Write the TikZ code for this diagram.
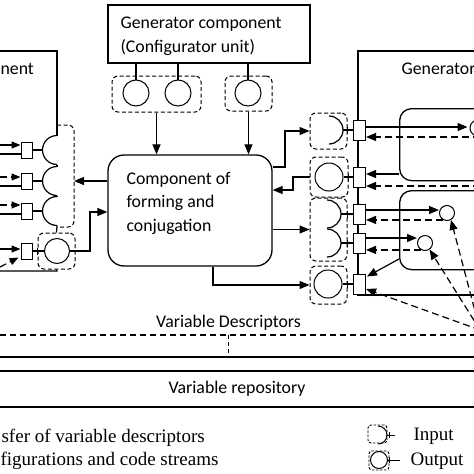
\documentclass[tikz,border=0pt]{standalone}
\usepackage{fontspec}
\setmainfont{Liberation Serif}
\newfontfamily\calib{Carlito}
\usetikzlibrary{arrows.meta}
\begin{document}
\begin{tikzpicture}[x=1pt,y=-1pt,line width=1.2pt,
  arr/.style={-{Triangle[length=10pt,width=8pt]}},
  sarr/.style={-{Triangle[length=9pt,width=7pt]}},
  dsh/.style={dash pattern=on 7pt off 4pt},
  grp/.style={draw,dash pattern=on 4pt off 2.5pt,rounded corners=6pt,line width=1pt,minimum width=37pt,inner sep=0pt},
  grpline/.style={dash pattern=on 4pt off 2.5pt,rounded corners=6pt,line width=1pt},
  sq/.style={draw,fill=white,inner sep=0pt,minimum width=12pt,minimum height=20pt,line width=1pt},
  sqs/.style={draw,fill=white,inner sep=0pt,minimum width=11pt,minimum height=16pt,line width=1pt},
  port/.style={draw,circle,inner sep=0pt,minimum size=28pt,line width=1pt},
  tick/.style={line width=1pt},
  lbl/.style={font=\calib\fontsize{17.8}{23.5}\selectfont,inner sep=0pt},
  leg/.style={font=\fontsize{19}{22}\selectfont,inner sep=0pt},
  box/.style={draw,line width=1.3pt,inner sep=0pt}
]
\useasboundingbox (0,0) rectangle (474,474);
\clip (0,0) rectangle (474,474);

% ---------- top: configurator unit ----------
\node[box,minimum width=202pt,minimum height=58pt] (gen) at (209,34) {};
\node[lbl,anchor=north west,align=left] (gent) at (120,16.5) {Generator component\\(Configurator unit)};
\node[grp,minimum width=89pt,minimum height=36pt] (g1) at (156.5,94) {};
\node[grp,minimum width=47pt,minimum height=35pt] (g2) at (248.5,93.5) {};
\node[port,minimum size=26pt] (c1) at (136,93) {};
\node[port,minimum size=26pt] (c2) at (178,93) {};
\node[port,minimum size=26pt] (c3) at (248,93) {};
\draw (gen.south -| c1) -- (c1.north);
\draw (gen.south -| c2) -- (c2.north);
\draw (gen.south -| c3) -- (c3.north);

% ---------- component of forming and conjugation ----------
\node[box,rounded corners=16pt,minimum width=164pt,minimum height=111pt] (comp) at (190,210.5) {};
\node[lbl,anchor=north west,align=left] (compt) at (126,171.5) {Component of\\forming and\\conjugation};
\draw[arr] (g1.south) -- (g1.south |- comp.north);
\draw[arr] (g2.south) -- (g2.south |- comp.north);

% ---------- left component ----------
\node[lbl,anchor=base west] (lt) at (0,74) {nent};
\draw (0,51) -- (57,51) -- (57,135.5);
\draw (57,135.5) arc[start angle=270,end angle=90,radius=14.5];
\draw (57,166.5) arc[start angle=270,end angle=90,radius=14.5];
\draw (57,196.5) arc[start angle=270,end angle=90,radius=14.5];
\draw (57,164.5) -- (57,166.5);
\draw (57,195.5) -- (57,196.5);
\draw[grpline] (57,125) -- (74,125) -- (74,227) -- (57,227);
\node[sqs] (sqL1) at (26.5,150) {};
\node[sqs] (sqL2) at (26.5,181) {};
\node[sqs] (sqL3) at (26.5,211) {};
\node[sqs] (sqL4) at (26.5,251) {};
\draw (sqL1.east) -- (42.5,150);
\draw (sqL2.east) -- (42.5,181);
\draw (sqL3.east) -- (42.5,211);
\node[grp,minimum height=36pt] (gLc) at (56.5,251) {};
\node[port,minimum size=25pt] (cL) at (57,251) {};
\draw (57,225.5) -- (gLc.north);
\draw (sqL4.east) -- (cL.west);
\draw[tick] (gLc.west) ++(0,-3.5) -- ++(0,7);
\draw (gLc.south) -- (57,271) -- (0,271);
% incoming streams on the left
\coordinate (L1a) at (0,145); \coordinate (L1b) at (0,154);
\coordinate (L2a) at (0,177); \coordinate (L2b) at (0,186);
\coordinate (L3a) at (0,205); \coordinate (L3b) at (0,214);
\coordinate (L4a) at (0,249); \coordinate (L4b) at (0,267);
\draw[sarr] (L1a) -- (sqL1.west |- L1a);
\draw (L1b) -- (sqL1.west |- L1b);
\draw[sarr,dsh] (L2a) -- (sqL2.west |- L2a);
\draw (L2b) -- (sqL2.west |- L2b);
\draw[sarr,dsh] (L3a) -- (sqL3.west |- L3a);
\draw (L3b) -- (sqL3.west |- L3b);
\draw[sarr] (L4a) -- (sqL4.west |- L4a);
\draw[sarr,dsh] (L4b) -- ([shift={(-2,-2)}]sqL4.south west);
\coordinate (gLe) at (74,181);
\draw[arr] (comp.west |- gLe) -- (gLe);
\draw[arr] (cL.east) -| (90,212) -- (comp.west |- 0,212);

% ---------- right component ----------
\node[lbl,anchor=base west] (rt) at (401,74) {Generator};
\draw (480,51) -- (358,51) -- (358,295) -- (480,295);
\node[box,rounded corners=12pt,minimum width=110pt,minimum height=72pt,anchor=north west] (ib1) at (399,108) {};
\node[box,rounded corners=12pt,minimum width=110pt,minimum height=79pt,anchor=north west] (ib2) at (399,190) {};
\node[grp,minimum height=36pt] (gA) at (328.5,131) {};
\node[grp,minimum width=38pt,minimum height=40pt] (gB) at (329,177) {};
\node[grp,minimum height=63pt] (gC) at (328.5,229.5) {};
\node[grp,minimum height=38pt] (gD) at (328.5,285) {};
\node[sq] (sqR1) at (359.5,130) {};
\node[sq] (sqR2) at (359.5,177) {};
\node[sq] (sqR3) at (359.5,214) {};
\node[sq] (sqR4) at (359.5,243) {};
\node[sq] (sqR5) at (359.5,284) {};
\draw (329,116) arc[start angle=270,end angle=450,radius=14];
\draw (327,200) arc[start angle=270,end angle=450,radius=14];
\draw (327,229) arc[start angle=270,end angle=450,radius=14];
\node[port] (cB) at (329,177) {};
\node[port] (cD) at (328,284) {};
\draw (343,130) -- (sqR1.west);
\draw (cB.east) -- (sqR2.west);
\draw (341,214) -- (sqR3.west);
\draw (341,243) -- (sqR4.west);
\draw (cD.east) -- (sqR5.west);
\draw[tick] (347,126.5) -- (347,133.5);
\draw[tick] (348,173.5) -- (348,180.5);
\draw[tick] (347,210.5) -- (347,217.5);
\draw[tick] (347,239.5) -- (347,246.5);
\draw[tick] (347,280.5) -- (347,287.5);
% component <-> sockets
\draw[arr] (comp.east |- 0,167) -| (285,131) -- (gA.west);
\draw[arr] (gB.west) -| (293,190) -- (comp.east |- 0,190);
\draw[arr] (comp.east |- gC.west) -- (gC.west);
\draw[arr] (comp.south -| 213,0) |- (gD.west);
% streams on the right
\node[port,minimum size=16pt] (cR1) at (478,128) {};
\node[port,minimum size=15pt] (cR3) at (447,213) {};
\node[port,minimum size=15pt] (cR4) at (425,243) {};
\coordinate (R1d) at (480,137);
\coordinate (R2d) at (480,186);
\coordinate (src) at (480,330);
\draw[arr,shorten >=2pt] (sqR1.east |- 0,127) -- (cR1.west |- 0,127);
\draw[arr,dsh] (R1d) -- (sqR1.east |- R1d);
\draw[arr] (ib1.west |- 0,174) -- (sqR2.east |- 0,174);
\draw[arr,dsh] (R2d) -- (sqR2.east |- R2d);
\draw[arr] (sqR3.east |- 0,210) -- (cR3.west |- 0,210);
\draw[arr,dsh] (cR3.240) -- (sqR3.east |- cR3.240);
\draw[arr] (sqR4.east |- 0,238) -- (cR4.west |- 0,238);
\draw[arr,dsh] (cR4.240) -- (sqR4.east |- cR4.240);
\draw[arr] (ib2.west |- 0,259) -- ([shift={(1,3)}]sqR5.north east);
\draw[arr,dsh] (src) -- (cR3.300);
\draw[arr,dsh] (src) -- (cR4.305);
\draw[arr,dsh] (src) -- (sqR5.east |- 0,289);

% ---------- bottom: descriptors and repository ----------
\node[lbl,anchor=base] (vd) at (228.5,327) {Variable Descriptors};
\coordinate (dl) at (0,335); \coordinate (dr) at (474,335);
\draw[dash pattern=on 6pt off 4pt] (dl) -- (dr);
\coordinate (vdl) at (228,335); \coordinate (vdb) at (228,356);
\draw[dash pattern=on 4pt off 3pt,line width=1pt] (vdl) -- (vdb);
\draw (0,357) -- (474,357);
\node[box,line width=1.2pt,minimum width=490pt,minimum height=36pt,lbl] (rep) at (237,389) {Variable repository};

% ---------- legend ----------
\node[leg,anchor=base west] (lg1) at (1,442) {sfer of variable descriptors};
\node[leg,anchor=base west] (lg2) at (0,465) {figurations and code streams};
\node[grp,minimum width=19pt,minimum height=18pt,rounded corners=3pt,dash pattern=on 2.5pt off 1.5pt,line width=0.9pt] (gIn) at (377.5,434) {};
\draw[line width=1pt] (378,426) arc[start angle=270,end angle=450,radius=9];
\draw[line width=1pt] (387,435) -- (395,435);
\draw[tick] (389,432) -- (389,438);
\node[grp,minimum width=20pt,minimum height=19pt,rounded corners=3pt,dash pattern=on 2.5pt off 1.5pt,line width=0.9pt] (gOut) at (379,460.5) {};
\node[port,minimum size=17pt] (cOut) at (379,460) {};
\draw[line width=1pt] (cOut.east) -- (400,460);
\draw[tick] (389,457) -- (389,463);
\node[leg,anchor=base west] (lin) at (413,440) {Input};
\node[leg,anchor=base west] (lout) at (410,465) {Output};
\end{tikzpicture}
\end{document}
